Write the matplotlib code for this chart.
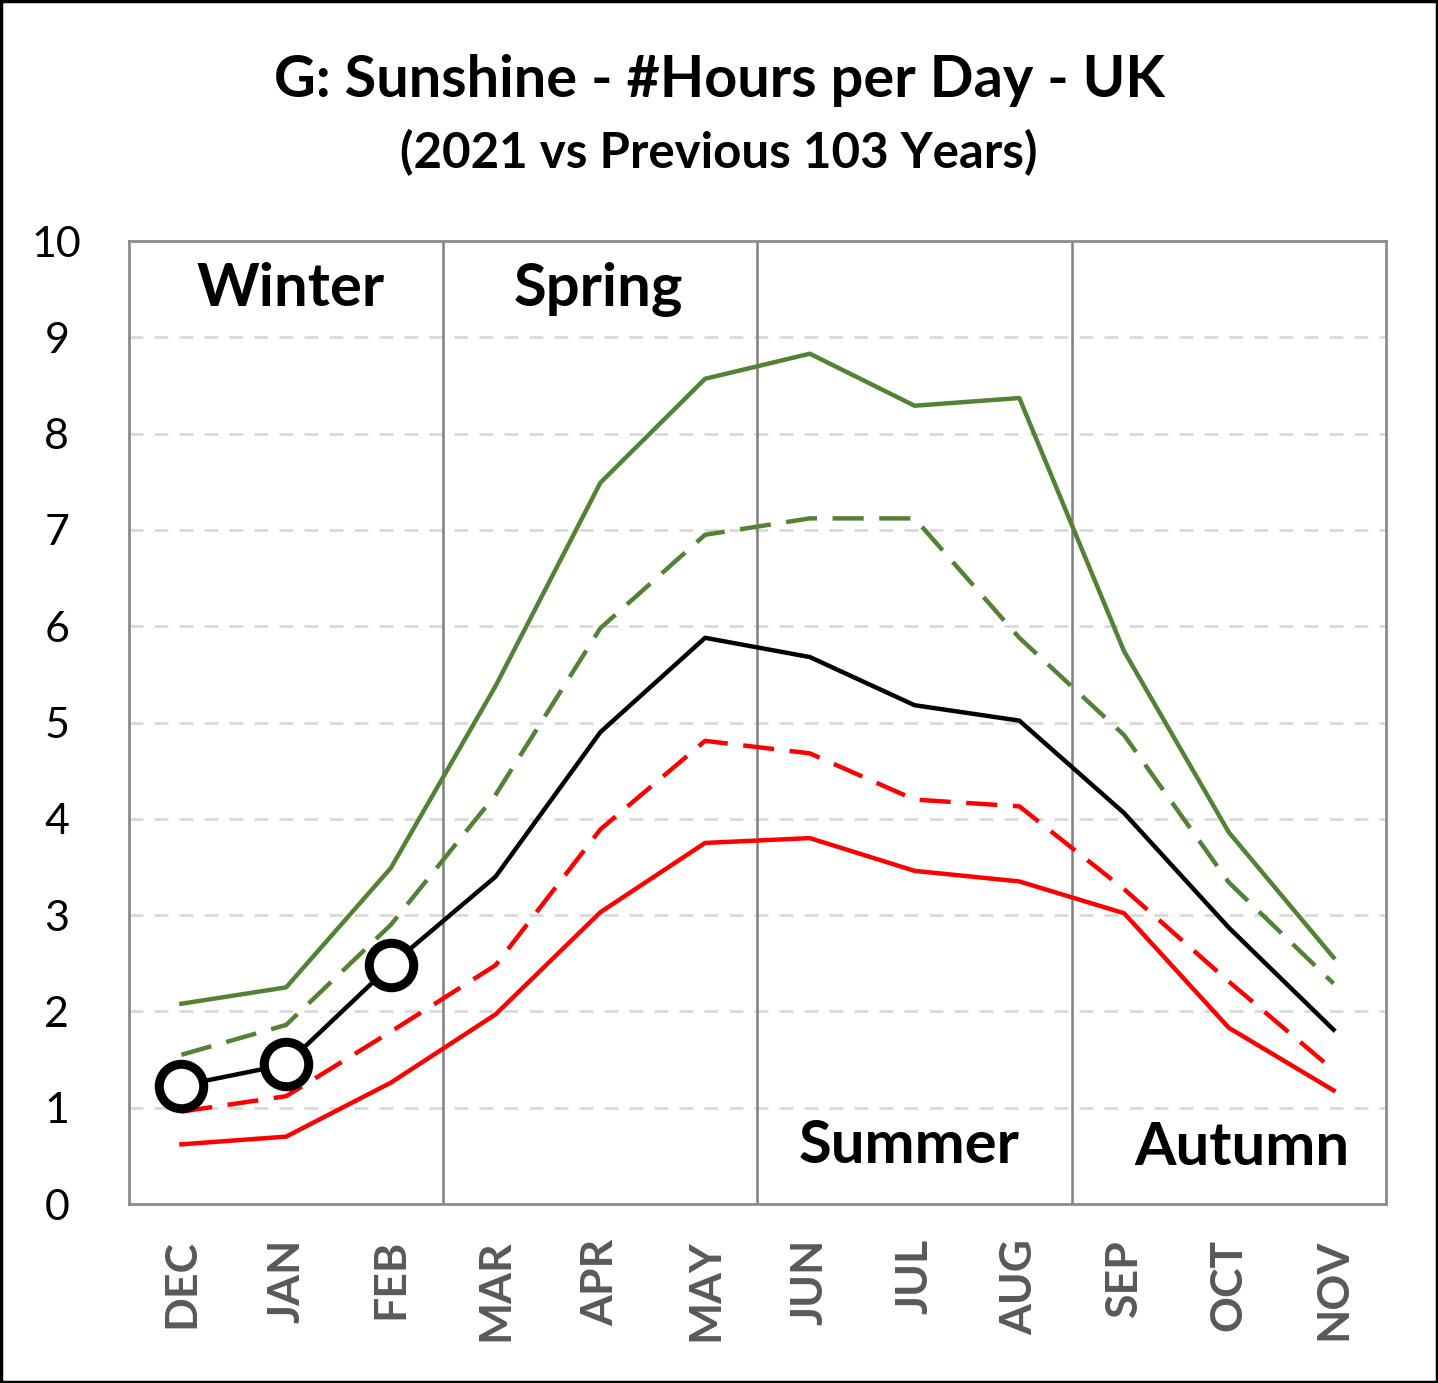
import matplotlib
matplotlib.use("Agg")
import matplotlib.pyplot as plt
from matplotlib.patches import Rectangle

plt.rcParams['font.family'] = ['Lato', 'DejaVu Sans']

months = ["DEC", "JAN", "FEB", "MAR", "APR", "MAY", "JUN", "JUL", "AUG", "SEP", "OCT", "NOV"]
max_vals = [2.08, 2.25, 3.49, 5.38, 7.49, 8.57, 8.83, 8.29, 8.37, 5.74, 3.86, 2.56]
upper_vals = [1.55, 1.86, 2.90, 4.25, 5.98, 6.95, 7.12, 7.12, 5.88, 4.87, 3.34, 2.29]
mean_vals = [1.23, 1.45, 2.48, 3.40, 4.90, 5.88, 5.68, 5.18, 5.02, 4.06, 2.87, 1.81]
lower_vals = [0.96, 1.12, 1.79, 2.48, 3.89, 4.81, 4.68, 4.20, 4.13, 3.27, 2.31, 1.39]
min_vals = [0.62, 0.70, 1.26, 1.97, 3.03, 3.75, 3.80, 3.46, 3.35, 3.02, 1.83, 1.18]
y2021 = [1.23, 1.45, 2.48]
seasons = ["Winter", "Spring", "Summer", "Autumn"]

fig = plt.figure(figsize=(14.38, 13.83), dpi=100)
ax = fig.add_axes([0.0897, 0.1294, 0.8741, 0.6963])

x = list(range(len(months)))
green = "#548235"
red = "#FF0000"
dash = (0, (7, 3.5))

ax.plot(x, max_vals, color=green, lw=3.2, zorder=3)
ax.plot(x, upper_vals, color=green, lw=3.2, linestyle=dash, zorder=3)
ax.plot(x, mean_vals, color="black", lw=3.2, zorder=4)
ax.plot(x, lower_vals, color=red, lw=3.2, linestyle=dash, zorder=3)
ax.plot(x, min_vals, color=red, lw=3.2, zorder=3)
ax.plot(x[:len(y2021)], y2021, linestyle="none", marker="o", markersize=32,
        markerfacecolor="white", markeredgecolor="black", markeredgewidth=6.5, zorder=5)

ax.set_xlim(-0.5, 11.5)
ax.set_ylim(0, 10)
ax.set_yticks(range(0, 11))
ax.set_xticks(x)
ax.set_xticklabels(months, rotation=90, fontsize=32, fontweight="bold", color="#595959")
ax.tick_params(axis="y", labelsize=31, length=0, pad=52, labelcolor="black")
ax.tick_params(axis="x", length=0, pad=25)
for lab in ax.get_yticklabels():
    lab.set_horizontalalignment("center")

ax.grid(axis="y", color="#d9d9d9", linestyle=(0, (5, 4)), lw=2, zorder=0)
for s in ax.spines.values():
    s.set_color("#8c8c8c")
    s.set_linewidth(2)

for b in [2.5, 5.5, 8.5]:
    ax.axvline(b, color="#7f7f7f", lw=1.8, zorder=2)

ax.text(1.04, 9.5, seasons[0], ha="center", va="center", fontsize=43, fontweight="bold")
ax.text(3.98, 9.5, seasons[1], ha="center", va="center", fontsize=43, fontweight="bold")
ax.text(6.95, 0.6, seasons[2], ha="center", va="center", fontsize=43, fontweight="bold")
ax.text(10.12, 0.58, seasons[3], ha="center", va="center", fontsize=43, fontweight="bold")

fig.text(0.5, 0.942, "G: Sunshine - #Hours per Day - UK", ha="center", va="center",
         fontsize=41.5, fontweight="bold")
fig.text(0.5, 0.890, "(2021 vs Previous 103 Years)", ha="center", va="center",
         fontsize=35.5, fontweight="bold")

fig.add_artist(Rectangle((0.001, 0.001), 0.998, 0.998, transform=fig.transFigure,
                         fill=False, edgecolor="black", lw=2.5))

fig.savefig("out.png", dpi=100)
